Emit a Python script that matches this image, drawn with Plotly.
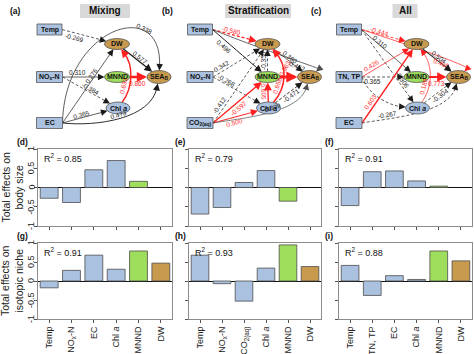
import math
import plotly.graph_objects as go

W, H = 474, 354
FONT = "Liberation Sans, Arial, sans-serif"

# ---------------- bar-chart data ----------------
cats_mix = ["Temp", "NO<sub>x</sub>-N", "EC", "Chl <i>a</i>", "MNND", "DW"]
cats_strat = ["Temp", "NO<sub>x</sub>-N", "CO<sub>2(aq)</sub>", "Chl <i>a</i>", "MNND", "DW"]
cats_all = ["Temp", "TN, TP", "EC", "Chl <i>a</i>", "MNND", "DW"]

body_mix = [-0.28, -0.39, 0.46, 0.70, 0.16, None]
body_strat = [-0.69, -0.52, 0.13, 0.44, -0.355, None]
body_all = [-0.47, 0.41, 0.43, 0.17, 0.035, None]
niche_mix = [-0.18, 0.28, 0.68, 0.31, 0.79, 0.47]
niche_strat = [0.68, -0.07, -0.53, 0.34, 0.95, 0.38]
niche_all = [0.41, -0.38, 0.14, 0.04, 0.79, 0.53]

y_tickvals = [-1, -0.5, 0, 0.5, 1]
y_ticktext = ["-1", "-0.5", "0", "0.5", "1"]

r2_body = ["0.85", "0.79", "0.91"]
r2_niche = ["0.91", "0.93", "0.88"]

BLUE, GREEN, BROWN = "#aac1e0", "#9ede5c", "#c89a4e"
bar_colors = [BLUE, BLUE, BLUE, BLUE, GREEN, BROWN]

# ---------------- path-diagram data ----------------
titles = ["Mixing", "Stratification", "All"]
node_text = [
    {"T": "Temp", "N": "NO<sub>x</sub>-N", "E": "EC"},
    {"T": "Temp", "N": "NO<sub>x</sub>-N", "E": "CO<sub>2(aq)</sub>"},
    {"T": "Temp", "N": "TN, TP", "E": "EC"},
]
# edges: src, dst, label, colour, dashed, bend, label t, label offset, angle override
edges_a = [
    ("T", "D", "-0.269", "k", True, None, 0.3, -5, None),
    ("E", "S", "0.338", "k", False, (0.43, 0.70, 1.3, 0.62), 0.72, 3, None),
    ("E", "D", "0.276", "k", False, None, 0.62, 3, None),
    ("N", "M", "0.310", "k", False, None, 0.35, 4, None),
    ("N", "C", "-0.384", "k", True, None, 0.55, 3, None),
    ("E", "C", "0.365", "k", False, None, 0.45, 3.5, None),
    ("E", "S", "0.473", "k", False, (0.35, -0.18, 0.8, -0.3), 0.5, 4, None),
    ("D", "S", "0.577", "k", False, None, 0.5, 4, None),
    ("M", "S", "0.860", "r", False, None, 0.45, -6, None),
    ("C", "D", "0.633", "r", False, (0.33, -0.25, 0.67, -0.25), 0.3, 6, None),
]
edges_b = [
    ("T", "D", "-0.580", "r", True, None, 0.4, 4, None),
    ("T", "S", "0.452", "g", False, (0.5, 0.05, 1.05, 0.1), 0.65, -4, None),
    ("T", "M", "0.496", "k", False, None, 0.3, -5, None),
    ("N", "D", "-0.342", "k", True, None, 0.22, 5, None),
    ("N", "C", "-0.268", "k", True, None, 0.25, 3.5, None),
    ("E", "D", "-0.412", "k", True, None, 0.2, 5, None),
    ("E", "M", "-0.597", "r", False, None, 0.45, -5, None),
    ("E", "C", "0.500", "r", False, None, 0.45, -5, None),
    ("E", "S", "0.309", "g", False, (0.35, -0.1, 0.8, -0.25), 0.55, 4, None),
    ("M", "D", "-0.350", "k", True, None, 0.5, 4, None),
    ("C", "M", "0.605", "r", False, None, 0.5, 4, None),
    ("C", "D", "0.658", "r", False, (0.33, -0.3, 0.67, -0.3), 0.3, 5, None),
    ("M", "S", "0.963", "r", False, None, 0.25, 9, -60),
    ("D", "S", "0.380", "k", False, None, 0.5, 4, None),
    ("C", "S", "-0.471", "k", True, None, 0.5, -4, None),
]
edges_c = [
    ("T", "S", "0.408", "r", False, (0.5, 0.08, 1.05, 0.12), 0.6, -5, None),
    ("T", "D", "-0.444", "r", True, None, 0.4, 3, None),
    ("T", "M", "0.310", "k", False, None, 0.35, 3, None),
    ("T", "C", "-0.306", "k", True, None, 0.72, 4, None),
    ("N", "D", "0.426", "r", False, None, 0.25, 5, None),
    ("N", "M", "-0.365", "k", True, None, 0.22, -4, None),
    ("N", "C", "", "k", True, (0.33, -0.12, 0.67, -0.12), 0.5, 0, None),
    ("E", "D", "0.603", "r", False, None, 0.25, 5, None),
    ("E", "S", "-0.267", "k", True, (0.35, -0.1, 0.8, -0.25), 0.25, 4, None),
    ("C", "D", "0.186", "r", False, (0.33, -0.25, 0.67, -0.25), 0.3, 5, None),
    ("M", "S", "0.773", "r", False, None, 0.45, -6, None),
    ("D", "S", "0.504", "k", False, None, 0.5, 4, None),
    ("C", "S", "-0.304", "k", True, None, 0.5, -4, None),
]
all_edges = [edges_a, edges_b, edges_c]

# ---------------- layout constants ----------------
node_base = {
    "T": ("box", 49.5, 29.5, 12.5, 5.5),
    "N": ("box", 49.5, 77, 13, 5.5),
    "E": ("box", 49.5, 123, 13, 5.5),
    "D": ("ell", 117, 44, 12.5, 5.5),
    "M": ("ell", 117, 77, 12.5, 5.5),
    "C": ("ell", 118, 108, 12, 6),
    "S": ("ell", 159, 77, 12, 6.5),
}
node_fill = {"T": BLUE, "N": BLUE, "E": BLUE, "D": BROWN, "M": GREEN, "C": BLUE, "S": BROWN}
offsets = [0, 150.5, 299.5]
header_centres = [105, 258, 405]
COL = {"k": "#1a1a1a", "r": "#ff1f1f", "g": "#4d4d4d"}


def P(x, y):
    return x / W, 1 - y / H


shapes, annots = [], []


def text_ann(x, y, text, size, color="#111", angle=0):
    X, Y = P(x, y)
    annots.append(dict(x=X, y=Y, xref="paper", yref="paper", text=text,
                       showarrow=False, textangle=angle, xanchor="center",
                       yanchor="middle", borderpad=0,
                       font=dict(size=size, color=color, family=FONT)))


def boundary(nd, ox, tx, ty, source):
    kind, cx, cy, rx, ry = node_base[nd]
    cx += ox
    if kind == "box":
        if source:
            return cx + rx, cy
        dx, dy = tx - cx, ty - cy
        s = min(rx / abs(dx) if dx else 1e9, ry / abs(dy) if dy else 1e9)
        return cx + dx * s, cy + dy * s
    dx, dy = tx - cx, ty - cy
    s = 1 / math.sqrt((dx / rx) ** 2 + (dy / ry) ** 2)
    return cx + dx * s, cy + dy * s


def bez(p0, c1, c2, p3, t):
    u = 1 - t
    x = u**3 * p0[0] + 3 * u * u * t * c1[0] + 3 * u * t * t * c2[0] + t**3 * p3[0]
    y = u**3 * p0[1] + 3 * u * u * t * c1[1] + 3 * u * t * t * c2[1] + t**3 * p3[1]
    dx = 3 * u * u * (c1[0] - p0[0]) + 6 * u * t * (c2[0] - c1[0]) + 3 * t * t * (p3[0] - c2[0])
    dy = 3 * u * u * (c1[1] - p0[1]) + 6 * u * t * (c2[1] - c1[1]) + 3 * t * t * (p3[1] - c2[1])
    return x, y, dx, dy


for pi in range(3):
    ox = offsets[pi]
    for (s, d, lab, col, dashed, bend, lt, loff, aov) in all_edges[pi]:
        _, sx, sy, _, _ = node_base[s]
        _, dx_, dy_, _, _ = node_base[d]
        sx += ox
        dx_ += ox
        vx, vy = dx_ - sx, dy_ - sy
        L = math.hypot(vx, vy)
        nx, ny = vy / L, -vx / L
        if bend is None:
            p0 = boundary(s, ox, dx_, dy_, True)
            p3 = boundary(d, ox, p0[0], p0[1], False)
            c1 = (p0[0] + (p3[0] - p0[0]) / 3, p0[1] + (p3[1] - p0[1]) / 3)
            c2 = (p0[0] + 2 * (p3[0] - p0[0]) / 3, p0[1] + 2 * (p3[1] - p0[1]) / 3)
        else:
            a1, b1, a2, b2 = bend
            c1 = (sx + a1 * vx + b1 * L * nx, sy + a1 * vy + b1 * L * ny)
            c2 = (sx + a2 * vx + b2 * L * nx, sy + a2 * vy + b2 * L * ny)
            p0 = boundary(s, ox, c1[0], c1[1], True)
            p3 = boundary(d, ox, c2[0], c2[1], False)
        c = float(lab) if lab else 0.3
        w = max(0.7, 3.0 * abs(c) ** 1.6)
        colour = COL[col]
        _, _, ex, ey = bez(p0, c1, c2, p3, 1.0)
        el = math.hypot(ex, ey)
        ux, uy = ex / el, ey / el
        head = 5 + 2.2 * w
        pe = (p3[0] - ux * head * 0.6, p3[1] - uy * head * 0.6)
        path = "M {},{} C {},{} {},{} {},{}".format(
            *P(*p0), *P(*c1), *P(*c2), *P(*pe))
        shapes.append(dict(type="path", path=path, xref="paper", yref="paper",
                           line=dict(color=colour, width=w,
                                     dash="3px,2px" if dashed else "solid"),
                           layer="above"))
        hx, hy = P(*p3)
        annots.append(dict(x=hx, y=hy, xref="paper", yref="paper", text="",
                           showarrow=True, arrowhead=2, arrowcolor=colour,
                           arrowwidth=w, arrowsize=head / (5 * w),
                           ax=-ux * (head + 1), ay=-uy * (head + 1), standoff=0))
        if lab:
            lx, ly, tx, ty = bez(p0, c1, c2, p3, lt)
            tl = math.hypot(tx, ty)
            lx += ty / tl * loff
            ly += -tx / tl * loff
            ang = math.degrees(math.atan2(ty, tx))
            if ang > 90:
                ang -= 180
            if ang < -90:
                ang += 180
            if aov is not None:
                ang = aov
            text_ann(lx, ly, lab, 6.5, colour if col == "r" else "#222", ang)
    for nd, (kind, cx, cy, rx, ry) in node_base.items():
        cx += ox
        x0, y1 = P(cx - rx, cy - ry)
        x1, y0 = P(cx + rx, cy + ry)
        shapes.append(dict(type="rect" if kind == "box" else "circle",
                           xref="paper", yref="paper", x0=x0, x1=x1, y0=y0, y1=y1,
                           fillcolor=node_fill[nd], line=dict(color="#555555", width=0.8),
                           layer="above"))
        txt = node_text[pi].get(nd, {"D": "DW", "M": "MNND", "C": "Chl <i>a</i>",
                                     "S": "SEA<sub>B</sub>"}.get(nd))
        text_ann(cx, cy, "<b>%s</b>" % txt, 7)
    hc = header_centres[pi]
    hw = {0: 25, 1: 33, 2: 12.5}[pi]
    x0, y1 = P(hc - hw, 4)
    x1, y0 = P(hc + hw, 18)
    shapes.append(dict(type="rect", xref="paper", yref="paper", x0=x0, x1=x1,
                       y0=y0, y1=y1, fillcolor="#d9d9d9", line=dict(width=0),
                       layer="below"))
    text_ann(hc, 11, "<b>%s</b>" % titles[pi], 10)

letters = [("(a)", 16, 11), ("(b)", 167, 11), ("(c)", 316, 11),
           ("(d)", 22, 142), ("(e)", 180, 142), ("(f)", 329, 142),
           ("(g)", 22, 236), ("(h)", 180, 236), ("(i)", 329, 236)]
for t, x, y in letters:
    text_ann(x, y, "<b>%s</b>" % t, 8.5)

# ---------------- bar charts ----------------
fig = go.Figure()
cols = [(38, 172), (189, 321), (339, 472)]
rows = [(149, 226), (243, 319)]
cat_sets = [cats_mix, cats_strat, cats_all]
vals = [[body_mix, body_strat, body_all], [niche_mix, niche_strat, niche_all]]
r2s = [r2_body, r2_niche]
layout_axes = {}
for r in range(2):
    for c in range(3):
        idx = r * 3 + c + 1
        sfx = "" if idx == 1 else str(idx)
        fig.add_trace(go.Bar(x=cat_sets[c], y=vals[r][c], marker_color=bar_colors,
                             marker_line=dict(color="#4d4d4d", width=0.8), width=0.8,
                             xaxis="x" + sfx, yaxis="y" + sfx, showlegend=False))
        layout_axes["xaxis" + sfx] = dict(
            domain=[cols[c][0] / W, cols[c][1] / W], anchor="y" + sfx,
            type="category", categoryorder="array", categoryarray=cat_sets[c],
            range=[-0.5, 5.5], showline=True, mirror=True, linecolor="#8c8c8c",
            linewidth=1, ticks="outside", ticklen=3, tickcolor="#555",
            showticklabels=(r == 1), tickangle=-90, showgrid=False, automargin=False,
            ticklabeloverflow="allow",
            tickfont=dict(size=9, color="#222", family=FONT))
        layout_axes["yaxis" + sfx] = dict(
            domain=[1 - rows[r][1] / H, 1 - rows[r][0] / H], anchor="x" + sfx,
            range=[-1, 1], tickmode="array", tickvals=y_tickvals,
            showline=True, mirror=True,
            linecolor="#8c8c8c", linewidth=1, ticks="outside", ticklen=3,
            tickcolor="#555", showticklabels=False,
            zeroline=True, zerolinecolor="#111", zerolinewidth=1, showgrid=False,
            automargin=False)
        if c == 0:
            top, bot = rows[r]
            for tv, tt in zip(y_tickvals, y_ticktext):
                frac = (tv + 1) / 2.0
                ypx = bot - frac * (bot - top)
                text_ann(cols[c][0] - 7, ypx, tt, 9, "#222", -90)
        annots.append(dict(x=0.03, y=0.99, xref="x%s domain" % sfx,
                           yref="y%s domain" % sfx, xanchor="left", yanchor="top",
                           text="R<sup>2</sup> = %s" % r2s[r][c], showarrow=False,
                           font=dict(size=9, color="#111", family=FONT)))

text_ann(12, 187.5, "Total effects on<br>body size", 10.5, "#222", -90)
text_ann(12, 281, "Total effects on<br>isotopic niche", 10.5, "#222", -90)

fig.update_layout(width=W, height=H, margin=dict(l=0, r=0, t=0, b=0),
                  template="none", paper_bgcolor="white", plot_bgcolor="white",
                  font=dict(family=FONT), bargap=0.2, shapes=shapes,
                  annotations=annots, **layout_axes)
fig.write_html("out.html")
